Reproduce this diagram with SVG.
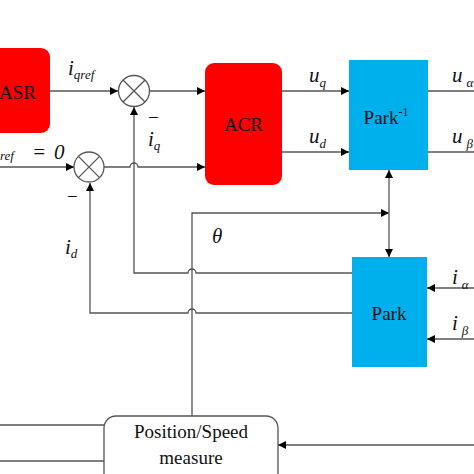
<svg xmlns="http://www.w3.org/2000/svg" width="474" height="474" viewBox="0 0 474 474">
<defs>
<marker id="arr" viewBox="0 0 10 10" refX="10" refY="5" markerWidth="10" markerHeight="8" markerUnits="userSpaceOnUse" orient="auto">
<path d="M0,0 L10,5 L0,10 z" fill="#000"/>
</marker>
<style>
.ln{fill:none;stroke:#555;stroke-width:1.3}
.red{fill:#ff0000}
.blue{fill:#00b0ec}
.lbl{font-family:"Liberation Serif",serif;font-size:19px;fill:#111}
.mi{font-family:"Liberation Serif",serif;font-style:italic;font-size:21px;fill:#111}
.sub{font-family:"Liberation Serif",serif;font-style:italic;font-size:13px;fill:#111}
.sum{fill:#fff;stroke:#555;stroke-width:1.3}
</style>
</defs>
<rect width="474" height="474" fill="#fff"/>

<g id="connectors">
<path class="ln" d="M50,91 H118" marker-end="url(#arr)"/>
<path class="ln" d="M0,167 H74" marker-end="url(#arr)"/>
<path class="ln" d="M150,91 H205" marker-end="url(#arr)"/>
<path class="ln" d="M104,167 H130 A4,4 0 0 1 138,167 H205" marker-end="url(#arr)"/>
<path class="ln" d="M282,91 H349" marker-end="url(#arr)"/>
<path class="ln" d="M282,152 H349" marker-end="url(#arr)"/>
<path class="ln" d="M428,91 H474"/>
<path class="ln" d="M428,152 H474"/>
<path class="ln" d="M352,273 H196 A4,4 0 0 0 188,273 H134 V107" marker-end="url(#arr)"/>
<path class="ln" d="M352,313 H196 A4,4 0 0 0 188,313 H90 V183" marker-end="url(#arr)"/>
<path class="ln" d="M192,416 V213 H389" marker-end="url(#arr)"/>
<path class="ln" d="M389,213 V170" marker-end="url(#arr)"/>
<path class="ln" d="M389,213 V257" marker-end="url(#arr)"/>
<path class="ln" d="M474,288 H427" marker-end="url(#arr)"/>
<path class="ln" d="M474,339 H427" marker-end="url(#arr)"/>
<path class="ln" d="M0,425 H104"/>
<path class="ln" d="M0,461 H104"/>
<path class="ln" d="M474,445 H278" marker-end="url(#arr)"/>
</g>

<g id="ASR">
<rect class="red" x="-20" y="48" width="70" height="85" rx="9"/>
<text class="lbl" x="36" y="99" text-anchor="end" font-size="20">ASR</text>
</g>

<g id="sum1">
<circle class="sum" cx="134" cy="91" r="15.5"/>
<path class="ln" d="M123,80 L145,102 M145,80 L123,102"/>
</g>

<g id="sum2">
<circle class="sum" cx="89" cy="167" r="15"/>
<path class="ln" d="M78.4,156.4 L99.6,177.6 M99.6,156.4 L78.4,177.6"/>
</g>

<g id="ACR">
<rect class="red" x="205" y="63" width="77" height="122" rx="9"/>
<text class="lbl" x="243.5" y="131" text-anchor="middle" fill="#300">ACR</text>
</g>

<g id="ParkInv">
<rect class="blue" x="349" y="60" width="79" height="110"/>
<text class="lbl" x="386" y="124" text-anchor="middle">Park<tspan font-size="12" dy="-8">-1</tspan></text>
</g>

<g id="Park">
<rect class="blue" x="352" y="257" width="75" height="110"/>
<text class="lbl" x="389" y="320" text-anchor="middle">Park</text>
</g>

<g id="measure">
<rect x="104" y="416" width="174" height="80" rx="12" fill="#fff" stroke="#555" stroke-width="1.3"/>
<text class="lbl" x="191" y="438" text-anchor="middle" font-size="20.5">Position/Speed</text>
<text class="lbl" x="191" y="464" text-anchor="middle" font-size="20.5">measure</text>
</g>

<g id="labels">
<text class="mi" x="68" y="75">i<tspan class="sub" dy="4">qref</tspan></text>
<text class="sub" x="0" y="160">ref</text>
<text class="mi" x="32" y="159" font-style="normal">=</text>
<text class="mi" x="54" y="159">0</text>
<text class="lbl" x="148" y="124" font-size="16">−</text>
<text class="mi" x="148" y="146">i<tspan class="sub" dy="4">q</tspan></text>
<text class="lbl" x="67" y="203">−</text>
<text class="mi" x="65" y="254">i<tspan class="sub" dy="4">d</tspan></text>
<text class="mi" x="212" y="243">θ</text>
<text class="mi" x="309" y="82">u<tspan class="sub" dy="5">q</tspan></text>
<text class="mi" x="309" y="143">u<tspan class="sub" dy="5">d</tspan></text>
<text class="mi" x="452" y="82">u<tspan class="sub" dy="5" dx="4">α</tspan></text>
<text class="mi" x="452" y="143">u<tspan class="sub" dy="5" dx="4">β</tspan></text>
<text class="mi" x="452" y="284">i<tspan class="sub" dy="5" dx="4">α</tspan></text>
<text class="mi" x="452" y="330">i<tspan class="sub" dy="5" dx="4">β</tspan></text>
</g>
</svg>
